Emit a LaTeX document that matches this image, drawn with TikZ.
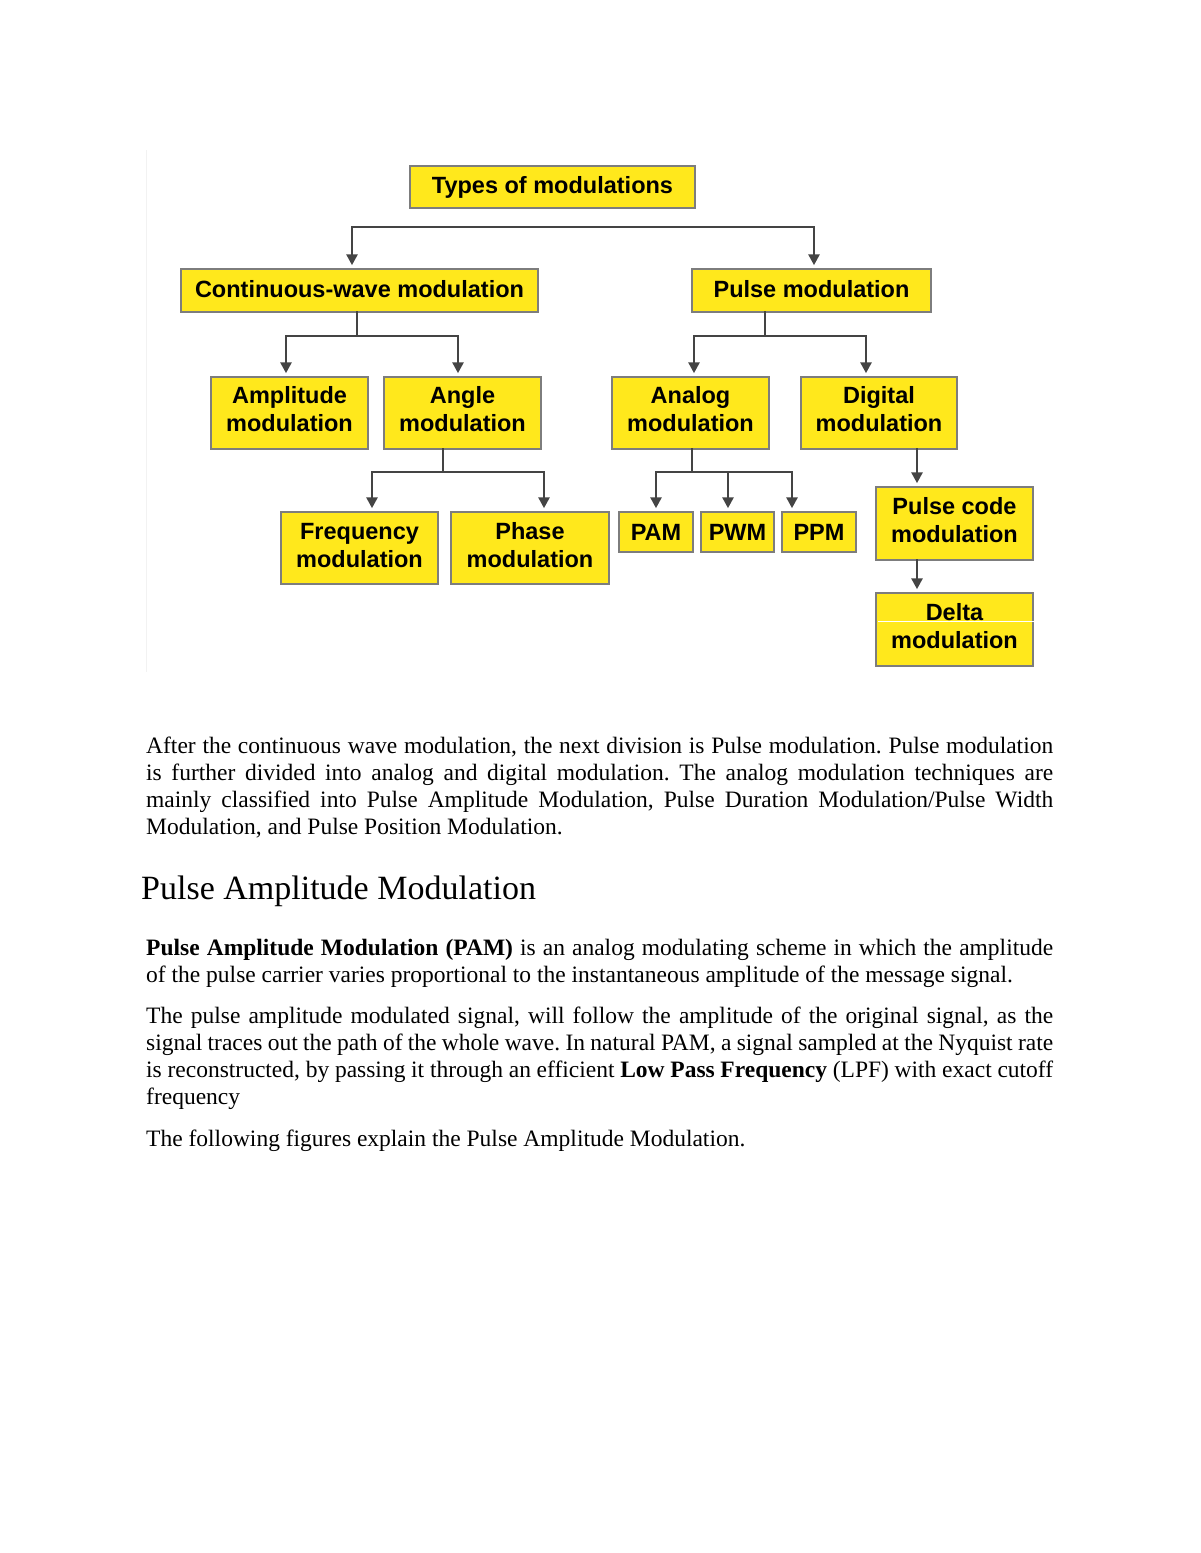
\documentclass[tikz,border=0pt]{standalone}
\usepackage{fontspec}
\setmainfont{Liberation Serif}
\setsansfont{Liberation Sans}
\usetikzlibrary{arrows.meta}
\definecolor{boxyellow}{RGB}{255,232,28}
\definecolor{boxedge}{RGB}{125,125,125}
\definecolor{connc}{RGB}{68,68,68}
\newcommand{\paraset}{\frenchspacing\tolerance=9999\relax\hyphenpenalty=10000\relax}
\begin{document}
\begin{tikzpicture}[x=1pt,y=-1pt,
  mbox/.style={draw=boxedge, fill=boxyellow, line width=1.5pt, inner sep=0pt, align=center,
    font=\sffamily\bfseries\fontsize{23.5}{28}\selectfont},
  twoline/.style={mbox, text depth=8pt},
  link/.style={draw=connc, line width=2.7pt, line cap=rect},
  arr/.style={link, shorten >=3pt, -{Triangle[width=11pt,length=11pt]}},
  para/.style={anchor=base west, inner sep=0pt, text width=907pt, align=justify,
    font=\fontsize{23.5}{27}\selectfont}]
\useasboundingbox (0,0) rectangle (1200,1553);
\fill[white] (0,0) rectangle (1200,1553);
\draw[gray!10, line width=1pt] (146,150) -- (146,672);
% boxes
\node[mbox, minimum width=285pt, minimum height=42pt] (types) at (552.5,187) {Types of modulations};
\node[mbox, minimum width=357pt, minimum height=43pt, text depth=4pt] (cw) at (359.5,290.5) {Continuous-wave modulation};
\node[mbox, minimum width=239pt, minimum height=43pt, text depth=4pt] (pm) at (811.5,290.5) {Pulse modulation};
\node[twoline, minimum width=157pt, minimum height=72pt] (am) at (289.5,413) {Amplitude\\modulation};
\node[twoline, minimum width=157pt, minimum height=72pt] (ang) at (462.5,413) {Angle\\modulation};
\node[twoline, minimum width=157pt, minimum height=72pt] (an) at (690.5,413) {Analog\\modulation};
\node[twoline, minimum width=156pt, minimum height=72pt] (dg) at (879,413) {Digital\\modulation};
\node[twoline, minimum width=157pt, minimum height=72pt, text depth=6pt] (fm) at (359.5,548) {Frequency\\modulation};
\node[twoline, minimum width=158pt, minimum height=72pt, text depth=6pt] (ph) at (530,548) {Phase\\modulation};
\node[mbox, minimum width=74pt, minimum height=40pt] (pam) at (656,532) {PAM};
\node[mbox, minimum width=73pt, minimum height=40pt] (pwm) at (737.5,532) {PWM};
\node[mbox, minimum width=74pt, minimum height=40pt] (ppm) at (819,532) {PPM};
\node[twoline, minimum width=157pt, minimum height=73pt] (pcm) at (954.5,523.5) {Pulse code\\modulation};
\node[twoline, minimum width=157pt, minimum height=73pt] (dm) at (954.5,629.5) {Delta\\modulation};
\draw[white, line width=1pt] (878,621.5) -- (1035,621.5);
% connectors level 1
\coordinate (j0l) at (352,227);
\coordinate (j0r) at (814,227);
\draw[arr] (j0r) -- (j0l) -- (j0l |- cw.north);
\draw[arr] (j0r) -- (j0r |- pm.north);
% continuous wave
\coordinate (j1) at (357,336);
\coordinate (j1l) at (286,336);
\coordinate (j1r) at (458,336);
\draw[link] (j1 |- cw.south) -- (j1);
\draw[arr] (j1r) -- (j1l) -- (j1l |- am.north);
\draw[arr] (j1r) -- (j1r |- ang.north);
% pulse
\coordinate (j2) at (765,336);
\coordinate (j2l) at (694,336);
\coordinate (j2r) at (866,336);
\draw[link] (j2 |- pm.south) -- (j2);
\draw[arr] (j2r) -- (j2l) -- (j2l |- an.north);
\draw[arr] (j2r) -- (j2r |- dg.north);
% angle
\coordinate (j3) at (443,472);
\coordinate (j3l) at (372,472);
\coordinate (j3r) at (544,472);
\draw[link] (j3 |- ang.south) -- (j3);
\draw[arr] (j3r) -- (j3l) -- (j3l |- fm.north);
\draw[arr] (j3r) -- (j3r |- ph.north);
% analog
\coordinate (j4) at (692,472);
\coordinate (j4l) at (656,472);
\coordinate (j4m) at (728,472);
\coordinate (j4r) at (792,472);
\draw[link] (j4 |- an.south) -- (j4);
\draw[arr] (j4r) -- (j4l) -- (j4l |- pam.north);
\draw[arr] (j4m) -- (j4m |- pwm.north);
\draw[arr] (j4r) -- (j4r |- ppm.north);
% digital
\coordinate (j5) at (917,450);
\draw[arr] (j5 |- dg.south) -- (j5 |- pcm.north);
\draw[arr] (j5 |- pcm.south) -- (j5 |- dm.north);
% text
\node[para] (p1) at (146,753) {\paraset After the continuous wave modulation, the next division is Pulse modulation. Pulse modulation\linebreak
is further divided into analog and digital modulation. The analog modulation techniques are\linebreak
mainly classified into Pulse Amplitude Modulation, Pulse Duration Modulation/Pulse Width\linebreak
Modulation, and Pulse Position Modulation.};
\node[anchor=base west, inner sep=0pt, font=\fontsize{34}{40}\selectfont] (h) at (141,899) {Pulse Amplitude Modulation};
\node[para] (p2) at (146,955) {\paraset\textbf{Pulse Amplitude Modulation (PAM)} is an analog modulating scheme in which the amplitude\linebreak
of the pulse carrier varies proportional to the instantaneous amplitude of the message signal.};
\node[para] (p3) at (146,1023) {\paraset The pulse amplitude modulated signal, will follow the amplitude of the original signal, as the\linebreak
signal traces out the path of the whole wave. In natural PAM, a signal sampled at the Nyquist rate\linebreak
is reconstructed, by passing it through an efficient \textbf{Low Pass Frequency} (LPF) with exact cutoff\linebreak
frequency};
\node[para] (p4) at (146,1146) {\paraset The following figures explain the Pulse Amplitude Modulation.};
\end{tikzpicture}
\end{document}
